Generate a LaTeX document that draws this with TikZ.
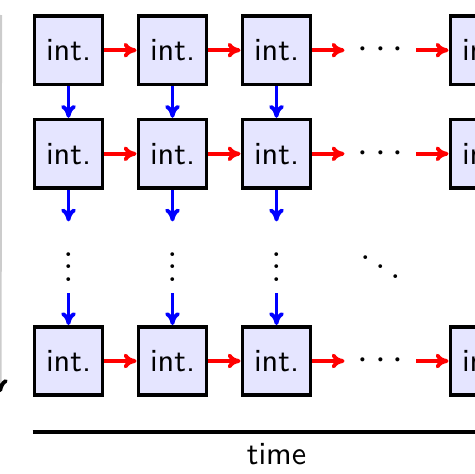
\documentclass[tikz,border=0pt]{standalone}
\usetikzlibrary{arrows.meta}
\begin{document}
\begin{tikzpicture}[x=0.31pt,y=-0.31pt,
  box/.style={draw=black, line width=1.1pt, fill=blue!10, minimum size=21.2pt, inner sep=0pt, font=\sffamily},
  ghost/.style={minimum size=21.2pt, inner sep=0pt, outer sep=0.55pt, font=\large},
  harr/.style={red, line width=1.2pt, -{To[length=4pt,width=4.6pt]}},
  varr/.style={blue, line width=1.2pt, -{To[length=4pt,width=4.6pt]}}]
\useasboundingbox (0,0) rectangle (474,474);
% rows 1,2,4 boxes
\foreach \r/\y in {1/50.2,2/153.8,4/361} {
  \foreach \c/\x in {1/68.5,2/172.5,3/276.5,5/484.5} {
    \node[box] (b-\r-\c) at (\x,\y) {int.};
  }
  \node[ghost] (b-\r-4) at (380.5,\y) {$\cdots$};
  \draw[harr] (b-\r-1) -- (b-\r-2);
  \draw[harr] (b-\r-2) -- (b-\r-3);
  \draw[harr] (b-\r-3) -- (b-\r-4);
  \draw[harr] (b-\r-4) -- (b-\r-5);
}
% row 3 dots
\foreach \c/\x in {1/68.5,2/172.5,3/276.5,5/484.5} {
  \node[ghost] (b-3-\c) at (\x,257.4) {$\vdots$};
  \draw[varr] (b-1-\c) -- (b-2-\c);
  \draw[varr] (b-2-\c) -- (b-3-\c);
  \draw[varr] (b-3-\c) -- (b-4-\c);
}
\node[ghost] (b-3-4) at (380.5,257.4) {$\ddots$};
% time axis
\coordinate (tl) at (32.5,432);
\coordinate (tr) at (520.5,432);
\draw[line width=1pt] (tl) -- (tr);
\node (time) at (276.5,454.5) {\sffamily time};
% cropped vertical axis at the left edge
\coordinate (ya) at (0.8,15);
\coordinate (yb) at (0.3,392);
\draw[gray!40, line width=0.8pt, -{To[length=4pt,width=4.6pt,black,line width=1.2pt]}] (ya) -- (yb);
\end{tikzpicture}
\end{document}
